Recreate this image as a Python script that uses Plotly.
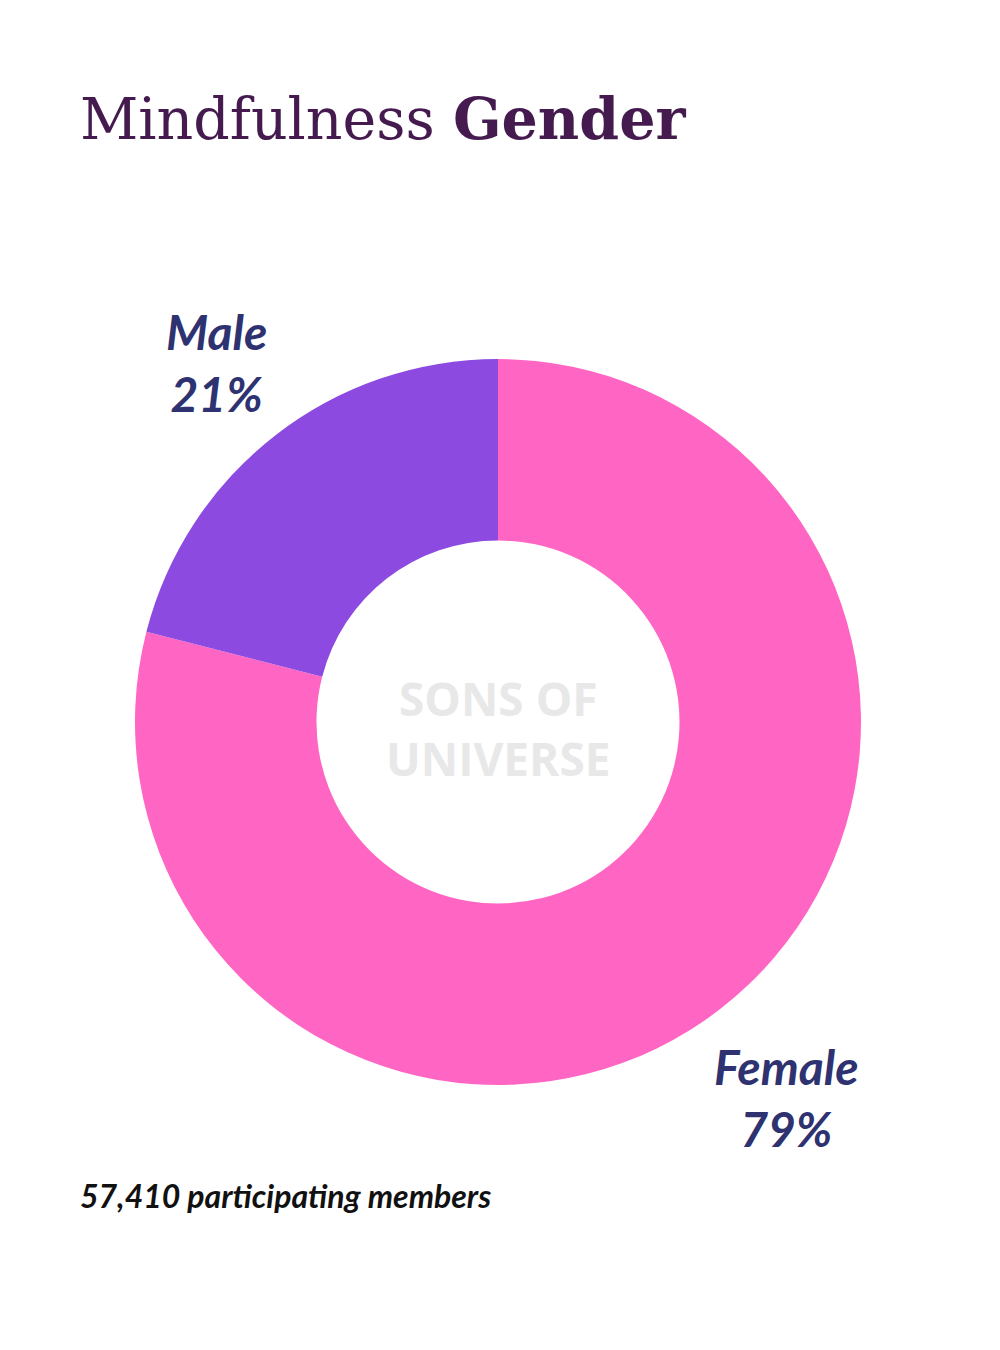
import plotly.graph_objects as go

labels = ["Female", "Male"]
values = [79, 21]
colors = ["#ff66c4", "#8c4ae0"]

W, H, OFF = 1000, 1350, 8
def px(x): return (x - OFF) / W
def py(y): return 1 - (y - OFF) / H

fig = go.Figure(go.Pie(
    labels=labels, values=values, hole=0.5, sort=False, direction="clockwise",
    rotation=0, marker=dict(colors=colors, line=dict(width=0)),
    textinfo="none", hoverinfo="label+percent", showlegend=False,
    domain=dict(x=[px(135), px(861)], y=[py(1085), py(359)]),
))
lab = dict(family="Lato", size=48, color="#2e3270")
def ann(x, y, text, font, xanchor="center"):
    fig.add_annotation(x=px(x), y=py(y), xref="paper", yref="paper", showarrow=False,
                       yanchor="middle", xanchor=xanchor, text=text, font=font, align="center")
ann(216, 362, f"<b><i>{labels[1]}<br>{values[1]}%</i></b>", lab)
ann(786, 1097, f"<b><i>{labels[0]}<br>{values[0]}%</i></b>", lab)
fig.add_annotation(x=px(498), y=py(728), xref="paper", yref="paper", showarrow=False,
    yanchor="middle", xanchor="center", align="center",
    text="<b>SONS OF<br>UNIVERSE</b>",
    font=dict(family="Open Sans", size=46, color="#e8e8e8", weight=800))
ann(78, 1195, "<b><i>57,410 participating members</i></b>",
    dict(family="Lato", size=32, color="#111111"), xanchor="left")
ann(78, 118, "Mindfulness <b>Gender</b>",
    dict(family="DejaVu Serif", size=57, color="#451a4e"), xanchor="left")
fig.update_layout(width=W, height=H, margin=dict(l=0, r=0, t=0, b=0),
    paper_bgcolor="white", plot_bgcolor="white")
fig.write_html("out.html")
